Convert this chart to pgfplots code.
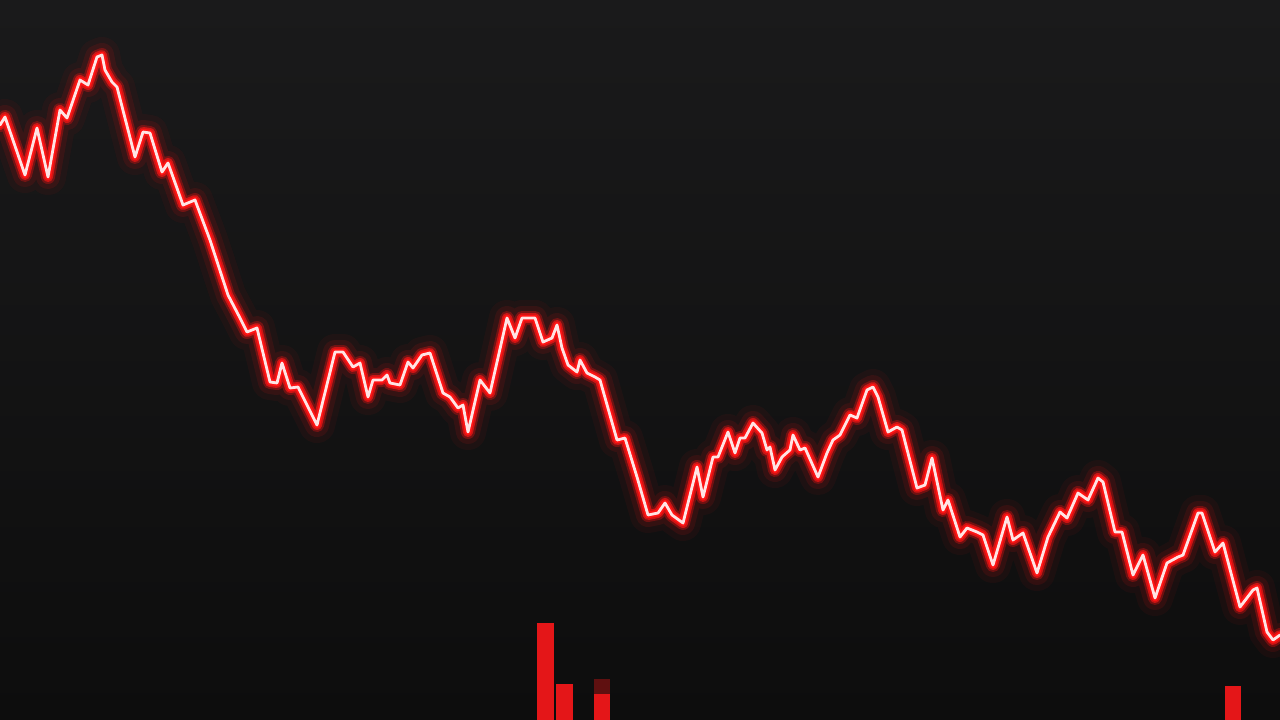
\documentclass[border=0pt]{standalone}
\usepackage{pgfplots}
\pgfplotsset{compat=1.18}
\definecolor{bgtop}{RGB}{26,26,27}
\definecolor{bgbot}{RGB}{13,13,13}
\definecolor{glowred}{RGB}{255,20,20}
\definecolor{corepink}{RGB}{255,228,228}
\definecolor{barred}{RGB}{228,22,24}
\definecolor{bardark}{RGB}{95,16,16}
\pgfplotstableread{
x y
0 125
5 117
25 175
37 128
48 177
60 110
67 118
80 80
88 85
97 57
102 55
105 70
112 82
117 87
135 157
143 132
150 133
162 172
168 163
183 205
195 200
210 240
228 295
240 318
247 332
257 328
270 382
277 383
282 363
290 388
298 387
317 425
335 352
343 352
353 367
360 363
368 397
373 380
382 380
387 375
390 383
400 385
408 362
413 368
422 355
430 353
443 393
450 397
458 408
463 405
468 432
480 380
490 393
507 318
515 338
522 318
535 318
543 342
552 338
557 325
562 348
568 365
577 372
580 360
587 373
595 377
600 380
617 440
625 438
637 477
648 515
658 513
665 503
672 515
683 523
697 467
703 497
713 457
718 457
728 432
735 453
740 438
745 438
753 423
762 433
767 450
770 447
775 470
782 457
790 450
793 435
800 450
805 448
818 477
827 453
833 440
840 435
850 415
857 418
867 390
873 387
878 397
888 432
897 427
902 430
917 488
925 485
932 458
943 510
948 500
960 537
967 528
977 532
983 535
993 565
1007 517
1013 540
1023 533
1037 573
1048 537
1060 512
1067 518
1078 493
1088 500
1098 478
1103 482
1115 532
1122 532
1133 575
1143 555
1155 598
1167 563
1178 557
1183 555
1198 513
1202 513
1215 552
1223 543
1240 607
1253 590
1257 588
1267 632
1273 640
1280 635
}\pricedata
\begin{document}
\begin{tikzpicture}
\begin{axis}[
  width=1280pt, height=720pt, scale only axis,
  xmin=0, xmax=1280, ymin=0, ymax=720, y dir=reverse,
  hide axis, clip=true,
]
\fill[top color=bgtop, bottom color=bgbot] (rel axis cs:0,0) rectangle (rel axis cs:1,1);
% bars
\addplot[fill=barred, draw=none] coordinates {(537,720) (537,623) (554,623) (554,720)} -- cycle;
\addplot[fill=barred, draw=none] coordinates {(556,720) (556,684) (573,684) (573,720)} -- cycle;
\addplot[fill=bardark, draw=none] coordinates {(594,694) (594,679) (610,679) (610,694)} -- cycle;
\addplot[fill=barred, draw=none] coordinates {(594,720) (594,694) (610,694) (610,720)} -- cycle;
\addplot[fill=barred, draw=none] coordinates {(1225,720) (1225,686) (1241,686) (1241,720)} -- cycle;
% glowing line
\addplot[glowred, opacity=0.05, line width=36pt, line join=round, line cap=round] table {\pricedata};
\addplot[glowred, opacity=0.1, line width=24pt, line join=round, line cap=round] table {\pricedata};
\addplot[glowred, opacity=0.3, line width=14pt, line join=round, line cap=round] table {\pricedata};
\addplot[glowred, opacity=0.65, line width=10pt, line join=round, line cap=round] table {\pricedata};
\addplot[glowred, line width=6.5pt, line join=round, line cap=round] table {\pricedata};
\addplot[corepink, line width=2.8pt, line join=round, line cap=round] table {\pricedata};
\end{axis}
\end{tikzpicture}
\end{document}
